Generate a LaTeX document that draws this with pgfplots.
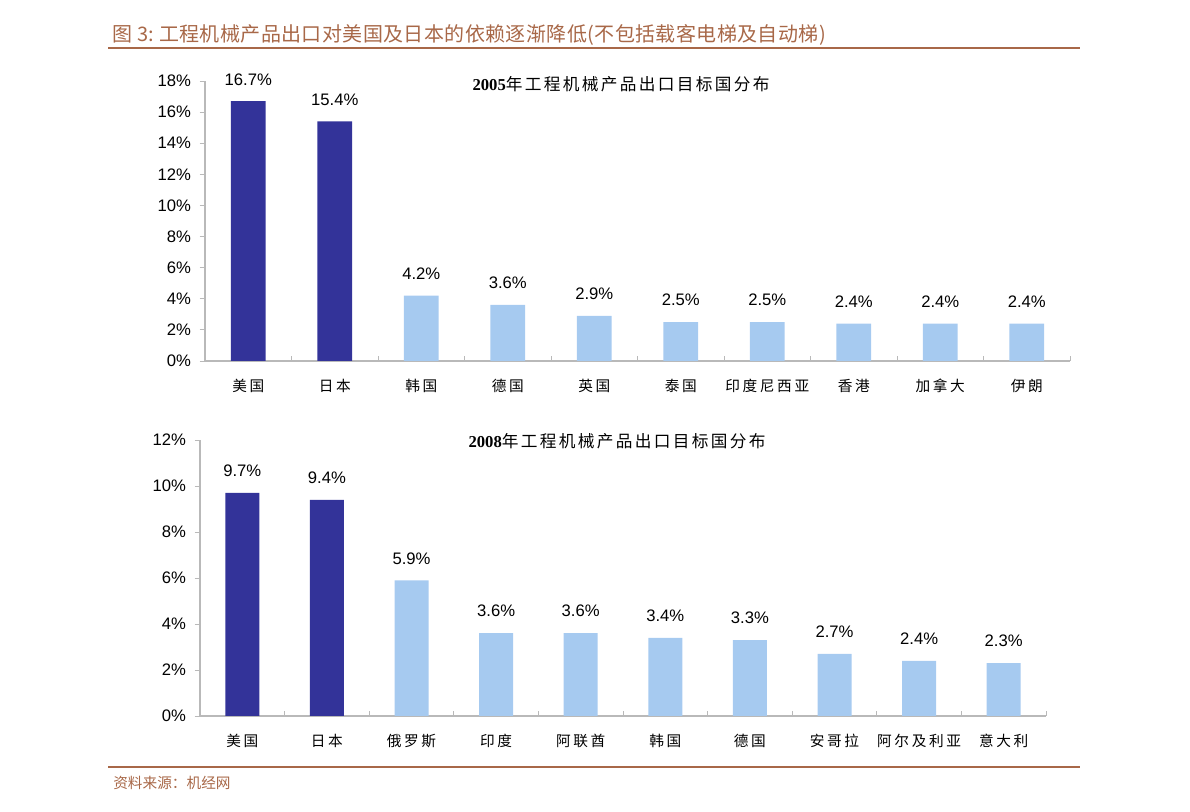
\documentclass[border=0pt]{standalone}
\usepackage{pgfplots}
\pgfplotsset{compat=1.18}
\usepackage{fontspec}
\setmainfont{Liberation Sans}
\newfontfamily\cjk{Noto Sans CJK SC}
\newfontfamily\cjksp[LetterSpace=18]{Noto Sans CJK SC}
\newfontfamily\cjkt[LetterSpace=14]{Noto Sans CJK SC}
\newfontfamily\cjkh[LetterSpace=2]{Noto Sans CJK SC}
\newfontfamily\serifb{Liberation Serif}
\definecolor{darkbar}{RGB}{51,51,153}
\definecolor{lightbar}{RGB}{166,202,240}
\definecolor{hdrbrown}{RGB}{168,104,72}
\definecolor{axisgray}{RGB}{185,185,185}
\pgfplotsset{
  mybars/.style={
    scale only axis,
    xmin=0.5, xmax=10.5, ymin=0,
    axis x line*=bottom, axis y line*=left,
    axis line style={axisgray, line width=0.8pt},
    tick align=inside,
    major tick length=4pt,
    xtick={0.5,1.5,...,10.5},
    x tick label as interval,
    xtick style={axisgray, line width=0.6pt},
    ytick style={axisgray, line width=0.6pt, xshift=-4pt},
    /pgf/number format/assume math mode=true,
    yticklabel={\pgfmathprintnumber{\tick}\%},
    yticklabel style={font=\fontsize{12.5}{14}\selectfont, xshift=-7pt},
    xticklabel style={font=\cjksp\fontsize{11}{13}\selectfont, yshift=-10pt},
    nodes near coords={\pgfmathprintnumber[fixed,fixed zerofill,precision=1]{\pgfplotspointmeta}\%},
    every node near coord/.append style={font=\fontsize{12.5}{14}\selectfont, black, yshift=8.5pt},
  }
}
\begin{document}
\begin{tikzpicture}
\begin{scope}[x=0.75pt,y=-0.75pt]
\useasboundingbox (0,0) rectangle (1190,812);
\node[anchor=west, text=hdrbrown, font=\cjkh\fontsize{15}{18}\selectfont, inner sep=0] at (112,35) {图 3:\ 工程机械产品出口对美国及日本的依赖逐渐降低(不包括载客电梯及自动梯)};
\draw[hdrbrown, line width=1.1pt] (108,48) -- (1080,48);
\node[font=\fontsize{12.5}{15}\selectfont] at (621,84) {{\serifb\bfseries 2005}{\cjkt 年工程机械产品出口目标国分布}};
\node[font=\fontsize{12.5}{15}\selectfont] at (617,441) {{\serifb\bfseries 2008}{\cjkt 年工程机械产品出口目标国分布}};
\draw[hdrbrown, line width=1.1pt] (108,767) -- (1080,767);
\node[anchor=west, text=hdrbrown, font=\cjk\fontsize{11}{13}\selectfont, inner sep=0] at (113,783) {资料来源：机经网};
\end{scope}

\begin{axis}[mybars, at={(153.75pt,-270.75pt)}, anchor=south west,
  width=648.75pt, height=210pt, ymax=18, ytick={0,2,...,18},
  xticklabels={美国,日本,韩国,德国,英国,泰国,印度尼西亚,香港,加拿大,伊朗}]
\addplot[ybar, bar width=26pt, bar shift=0pt, fill=darkbar, draw=none] coordinates {(1,16.7) (2,15.4)};
\addplot[ybar, bar width=26pt, bar shift=0pt, fill=lightbar, draw=none] coordinates {(3,4.2) (4,3.6) (5,2.9) (6,2.5) (7,2.5) (8,2.4) (9,2.4) (10,2.4)};
\end{axis}

\begin{axis}[mybars, at={(150pt,-537pt)}, anchor=south west,
  width=634.5pt, height=207pt, ymax=12, ytick={0,2,...,12},
  xticklabels={美国,日本,俄罗斯,印度,阿联酋,韩国,德国,安哥拉,阿尔及利亚,意大利}]
\addplot[ybar, bar width=25.5pt, bar shift=0pt, fill=darkbar, draw=none] coordinates {(1,9.7) (2,9.4)};
\addplot[ybar, bar width=25.5pt, bar shift=0pt, fill=lightbar, draw=none] coordinates {(3,5.9) (4,3.6) (5,3.6) (6,3.4) (7,3.3) (8,2.7) (9,2.4) (10,2.3)};
\end{axis}
\end{tikzpicture}
\end{document}
